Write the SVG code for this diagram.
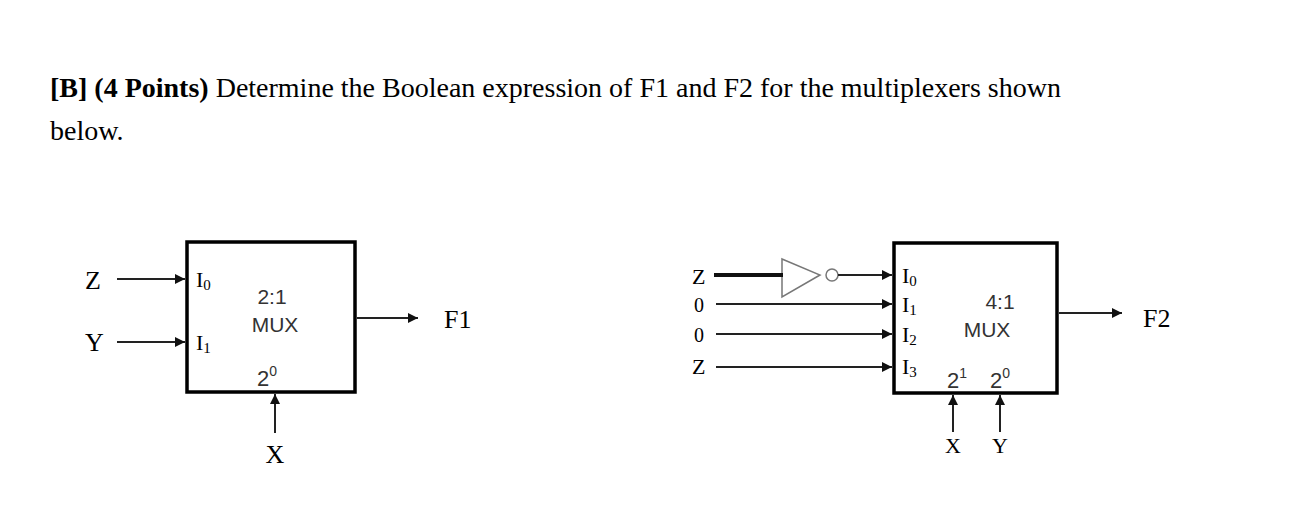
<svg xmlns="http://www.w3.org/2000/svg" width="1304" height="529" viewBox="0 0 1304 529">
<style>
.t{font-family:"Liberation Serif",serif;fill:#000}
.s{font-family:"Liberation Sans",sans-serif;fill:#333}
.box{fill:#fff;stroke:#000;stroke-width:3.5}
.w{stroke:#222;stroke-width:2;fill:none}
</style>
<defs><marker id="a" viewBox="0 0 10 10" refX="10" refY="5" markerWidth="5" markerHeight="5" orient="auto"><path d="M0,0L10,5L0,10z" fill="#111"/></marker></defs>
<rect width="1304" height="529" fill="#fff"/>
<text class="t" x="50" y="97" font-size="28"><tspan font-weight="bold">[B] (4 Points)</tspan> Determine the Boolean expression of F1 and F2 for the multiplexers shown</text>
<text class="t" x="50" y="140" font-size="28">below.</text>
<g id="mux1">
<rect class="box" x="187" y="242" width="168" height="150"/>
<text class="t" x="196" y="287" font-size="22">I<tspan font-size="15" dy="3">0</tspan></text>
<text class="t" x="196" y="350" font-size="22">I<tspan font-size="15" dy="3">1</tspan></text>
<text class="s" x="272" y="304" font-size="21" text-anchor="middle">2:1</text>
<text class="s" x="275" y="332" font-size="21" text-anchor="middle">MUX</text>
<text class="s" x="257" y="386" font-size="22">2<tspan font-size="14" dy="-10">0</tspan></text>
</g>
<g id="mux2">
<rect class="box" x="894" y="243" width="163" height="150"/>
<text class="t" x="902" y="283" font-size="22">I<tspan font-size="15" dy="3">0</tspan></text>
<text class="t" x="902" y="312" font-size="22">I<tspan font-size="15" dy="3">1</tspan></text>
<text class="t" x="902" y="342" font-size="22">I<tspan font-size="15" dy="3">2</tspan></text>
<text class="t" x="902" y="374" font-size="22">I<tspan font-size="15" dy="3">3</tspan></text>
<text class="s" x="1000" y="309" font-size="21" text-anchor="middle">4:1</text>
<text class="s" x="987" y="337" font-size="21" text-anchor="middle">MUX</text>
<text class="s" x="947" y="388" font-size="22">2<tspan font-size="14" dy="-10">1</tspan></text>
<text class="s" x="990" y="388" font-size="22">2<tspan font-size="14" dy="-10">0</tspan></text>
</g>
<g id="inv">
<path d="M782,259L820,275L782,297z" fill="#fff" stroke="#777" stroke-width="1.5"/>
<circle cx="832" cy="275" r="6" fill="#fff" stroke="#777" stroke-width="1.5"/>
</g>
<g id="labels">
<text class="t" x="85" y="289" font-size="26">Z</text>
<text class="t" x="85" y="351" font-size="26">Y</text>
<text class="t" x="275" y="463" font-size="26" text-anchor="middle">X</text>
<text class="t" x="444" y="328" font-size="26">F1</text>
<text class="t" x="692" y="284" font-size="22">Z</text>
<text class="t" x="694" y="312" font-size="20">0</text>
<text class="t" x="694" y="342" font-size="20">0</text>
<text class="t" x="692" y="374" font-size="22">Z</text>
<text class="t" x="953" y="453" font-size="22" text-anchor="middle">X</text>
<text class="t" x="1000" y="453" font-size="22" text-anchor="middle">Y</text>
<text class="t" x="1143" y="327" font-size="26">F2</text>
</g>
<g id="connectors">
<line class="w" x1="117" y1="279" x2="185" y2="279" marker-end="url(#a)"/>
<line class="w" x1="117" y1="342" x2="185" y2="342" marker-end="url(#a)"/>
<line class="w" x1="275" y1="433" x2="275" y2="394" marker-end="url(#a)"/>
<line class="w" x1="357" y1="318" x2="418" y2="318" marker-end="url(#a)"/>
<line stroke="#111" stroke-width="4" x1="714" y1="275" x2="783" y2="275"/>
<line class="w" x1="838" y1="275" x2="892" y2="275" marker-end="url(#a)"/>
<line class="w" x1="716" y1="304" x2="892" y2="304" marker-end="url(#a)"/>
<line class="w" x1="716" y1="334" x2="892" y2="334" marker-end="url(#a)"/>
<line class="w" x1="716" y1="367" x2="892" y2="367" marker-end="url(#a)"/>
<line class="w" x1="953" y1="432" x2="953" y2="395" marker-end="url(#a)"/>
<line class="w" x1="1000" y1="432" x2="1000" y2="395" marker-end="url(#a)"/>
<line class="w" x1="1059" y1="313" x2="1122" y2="313" marker-end="url(#a)"/>
</g>
</svg>
